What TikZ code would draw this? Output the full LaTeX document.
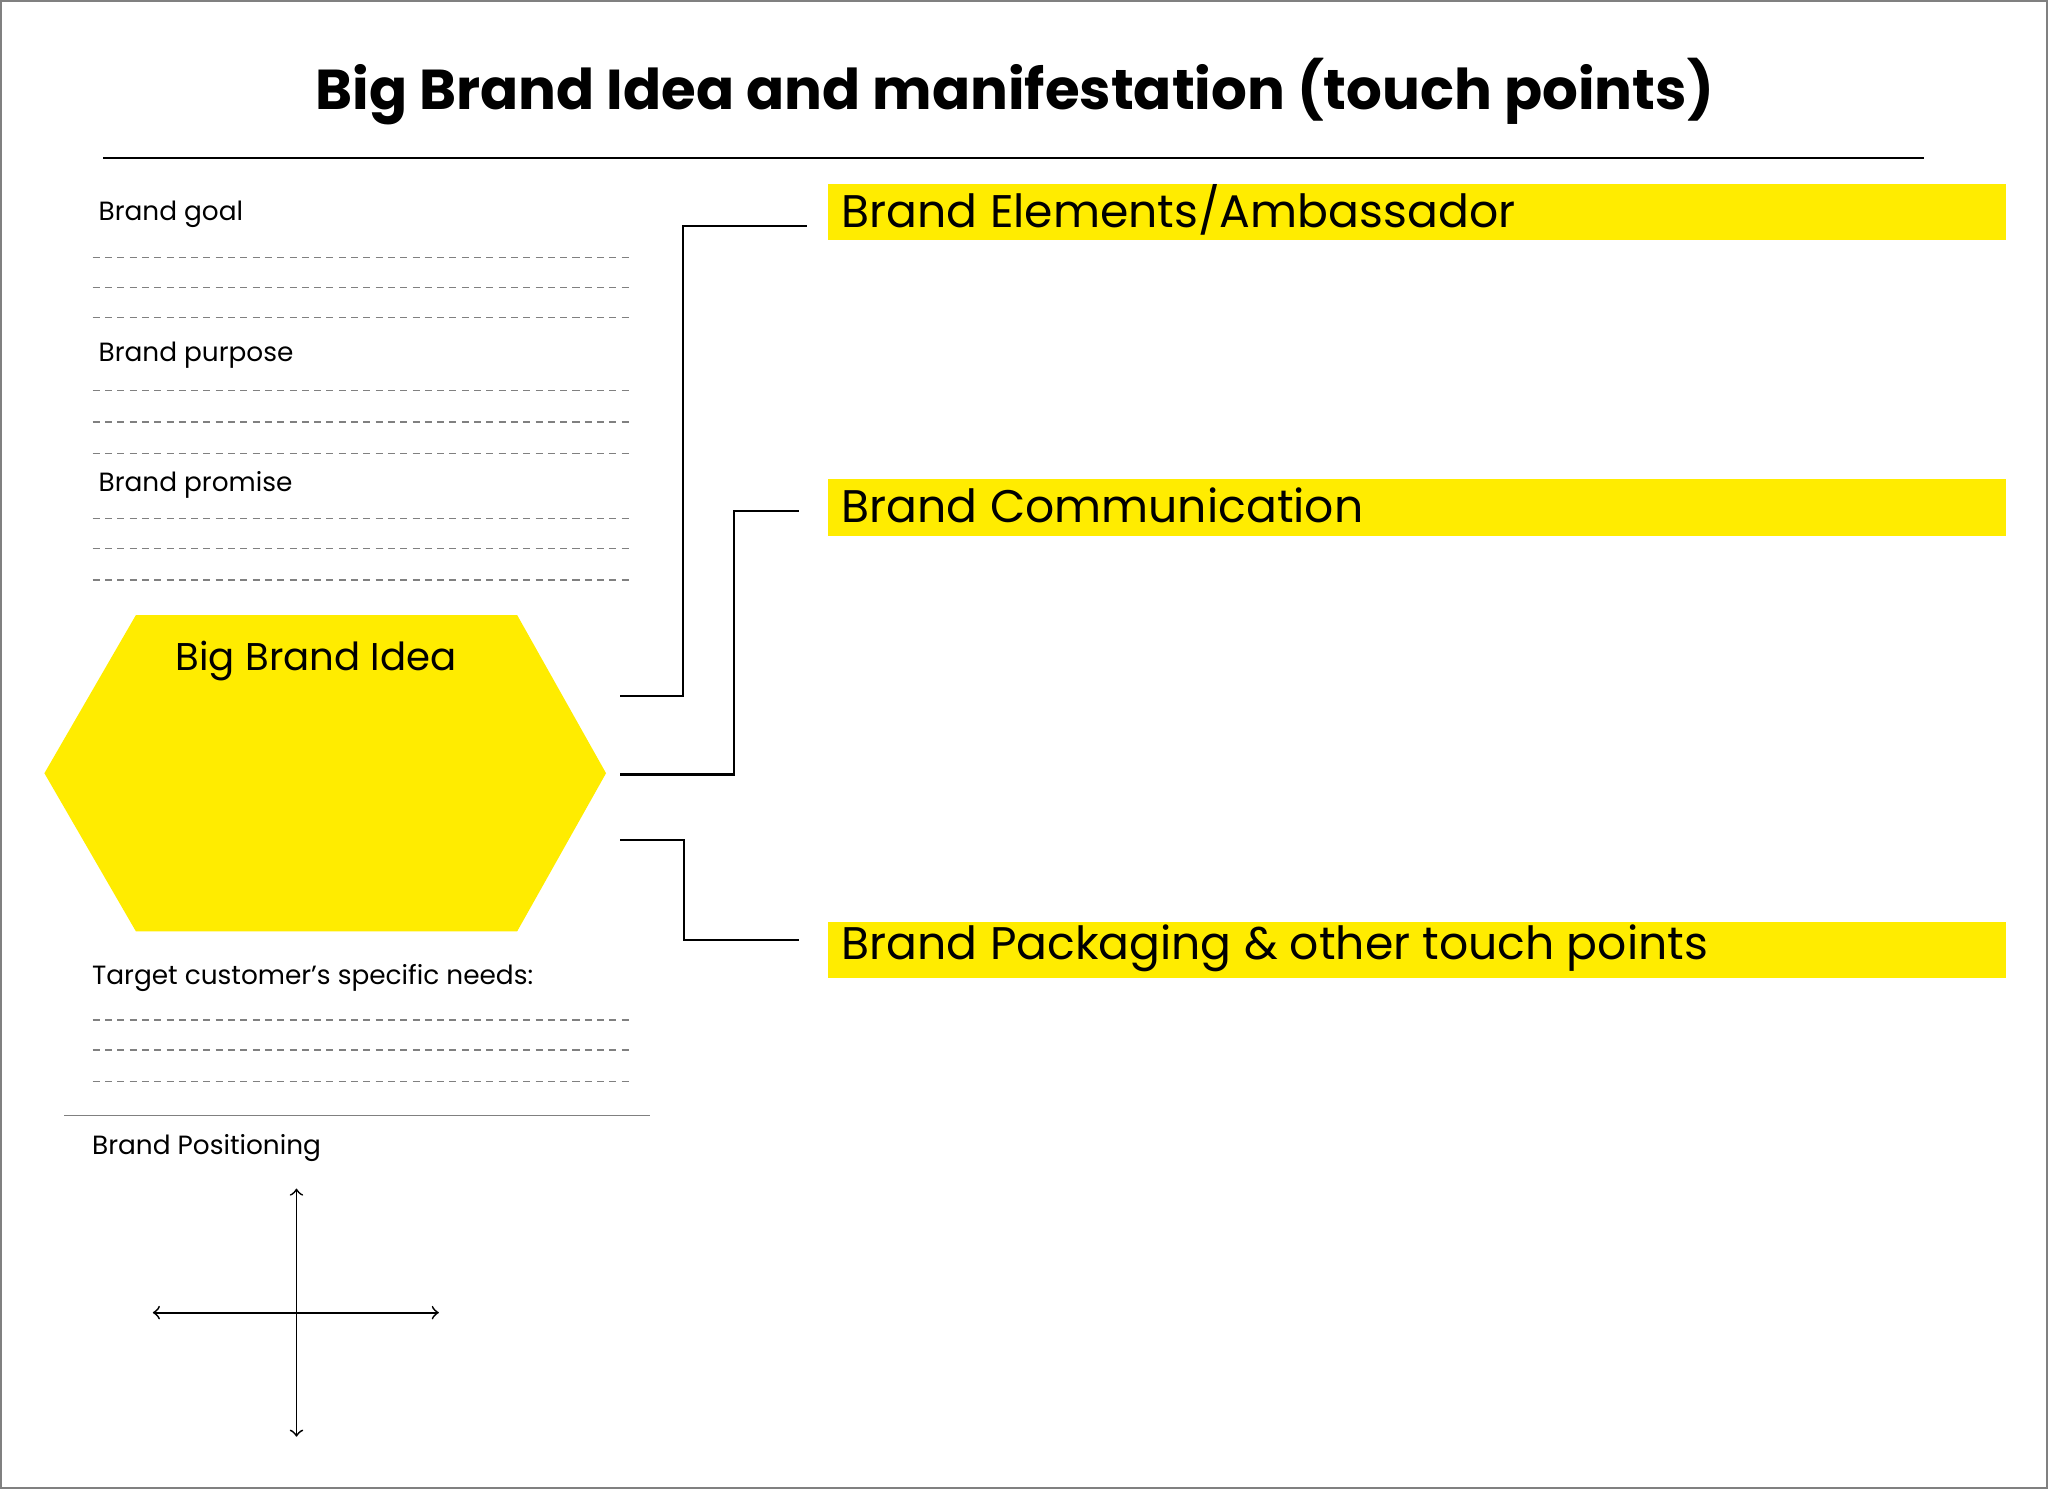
\documentclass[tikz,border=0pt]{standalone}
\usepackage{fontspec}
\setmainfont{Poppins}
\usetikzlibrary{arrows}
\usetikzlibrary{positioning}
\definecolor{brandyellow}{HTML}{FFEC00}
\begin{document}
\begin{tikzpicture}[x=0.01306cm,y=-0.01306cm,
  lbl/.style={anchor=west,font=\fontsize{7.5}{9}\selectfont},
  bar/.style={fill=brandyellow,draw=none},
  bartext/.style={anchor=west,font=\fontsize{13}{15}\selectfont},
  dots/.style={gray,line width=0.4pt,dash pattern=on 2pt off 1.5pt},
  link/.style={black,line width=0.6pt}]
\useasboundingbox (0,0) rectangle (1568,1140);
\draw[gray,line width=0.5pt] (1,1) rectangle (1567,1139);
\node (title) at (777,70) {\fontsize{16}{19}\selectfont\bfseries Big Brand Idea and manifestation (touch points)};
\draw[line width=0.7pt] (79,121) -- (1473,121);
% left column
\node[lbl] (goal) at (66,164) {Brand goal};
\node[lbl] (purpose) at (66,272) {Brand purpose};
\node[lbl] (promise) at (66,371) {Brand promise};
\node[lbl] (needs) at (61,749) {Target customer’s specific needs:};
\foreach \y in {197,220,243,299,323,347,397,420,444,781,804,828}
    \draw[dots] (71,\y) -- (485,\y);
\draw[gray,line width=0.5pt] (49,854) -- (498,854);
\node[lbl] (pos) at (61,879) {Brand Positioning};
% hexagon
\fill[brandyellow] (104,471) -- (396,471) -- (464,592) -- (396,713) -- (104,713) -- (34,592) -- cycle;
\node (idea) at (242,506) {\fontsize{11}{13}\selectfont Big Brand Idea};
% bars
\foreach \y/\name/\txt in {141/elem/{Brand Elements/Ambassador}, 367/comm/{Brand Communication}, 706/pack/{Brand Packaging \& other touch points}}{
    \fill[bar] (634,\y) rectangle (1536,\y+43);
    \node[bartext] (\name) at (635,\y+20) {\txt};
}
% connectors
\coordinate (a1) at (475,533); \coordinate (b1) at (618,173);
\coordinate (a2) at (475,593); \coordinate (b2) at (612,391);
\coordinate (a3) at (475,643); \coordinate (b3) at (612,720);
\draw[link] (a1) -- (523,533) |- (b1);
\draw[link] (a2) -- (562,593) |- (b2);
\draw[link] (a3) -- (524,643) |- (b3);
% axes
\coordinate (top) at (227,910); \coordinate (bot) at (227,1100);
\coordinate (lft) at (117,1005); \coordinate (rgt) at (336,1005);
\draw[line width=0.5pt,to-to] (top) -- (bot);
\draw[line width=0.5pt,to-to] (lft) -- (rgt);
\end{tikzpicture}
\end{document}
